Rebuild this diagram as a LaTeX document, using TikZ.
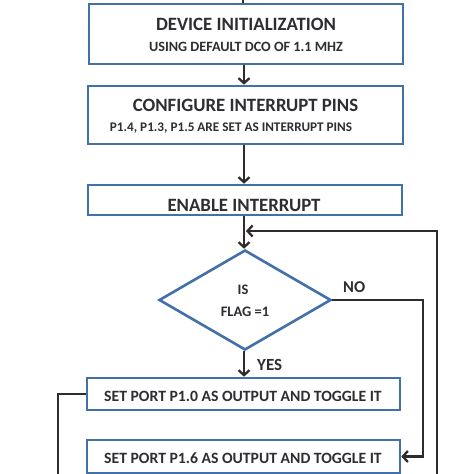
\documentclass[tikz,border=0pt]{standalone}
\usepackage{fontspec}
\setmainfont{Carlito}
\usetikzlibrary{arrows.meta,shapes.geometric}
\definecolor{boxblue}{RGB}{66,112,168}
\definecolor{linedark}{RGB}{48,44,44}
\definecolor{txt}{RGB}{45,45,50}
\tikzset{
  box/.style={draw=boxblue,line width=2.6pt,fill=white,inner sep=0pt},
  ttl/.style={text=txt,font=\bfseries\fontsize{18.8}{21}\selectfont,inner sep=0pt},
  sub/.style={text=txt,font=\bfseries\fontsize{13.5}{15}\selectfont,inner sep=0pt},
  btxt/.style={text=txt,font=\bfseries\fontsize{15.7}{18}\selectfont,inner sep=0pt},
  dtxt/.style={text=txt,font=\bfseries\fontsize{14.5}{16}\selectfont,inner sep=0pt},
  conn/.style={draw=linedark,line width=2.3pt},
  arr/.style={conn,-{Straight Barb[length=5pt,width=11pt,line width=2.3pt]}},
}
\begin{document}
\begin{tikzpicture}[x=1pt,y=1pt]
\useasboundingbox (0,0) rectangle (474,-474);
\fill[white] (0,0) rectangle (474,-474);
\coordinate (ax) at (244,0);
% boxes
\node[box,minimum width=314pt,minimum height=60pt] (b1) at (246,-34) {};
\node[ttl] (t1) at (246,-24) {DEVICE INITIALIZATION};
\node[sub,font=\bfseries\fontsize{14.2}{16}\selectfont] (s1) at (246,-47) {USING DEFAULT DCO OF 1.1 MHZ};
\node[box,minimum width=315pt,minimum height=58pt] (b2) at (245.5,-115) {};
\node[ttl] (t2) at (245.5,-105) {CONFIGURE INTERRUPT PINS};
\node[sub,font=\bfseries\fontsize{13.2}{15}\selectfont] (s2) at (231,-128) {P1.4, P1.3, P1.5 ARE SET AS INTERRUPT PINS};
\node[box,minimum width=314pt,minimum height=30pt] (b3) at (245,-200) {};
\node[ttl] (t3) at (244,-205) {ENABLE INTERRUPT};
\node[draw=boxblue,line width=2.6pt,diamond,minimum width=172pt,minimum height=100pt,inner sep=0pt] (d) at (245,-300) {};
\node[dtxt] (dt1) at (243,-290) {IS};
\node[dtxt] (dt2) at (245,-312) {FLAG =1};
\node[box,minimum width=313pt,minimum height=32pt] (b4) at (243.5,-394) {};
\node[btxt] (t4) at (243,-396) {SET PORT P1.0 AS OUTPUT AND TOGGLE IT};
\node[box,minimum width=313pt,minimum height=33pt] (b5) at (243.5,-456.5) {};
\node[btxt] (t5) at (243,-458) {SET PORT P1.6 AS OUTPUT AND TOGGLE IT};
% connectors
\coordinate (top) at (243,0);
\draw[conn] (top) -- (top |- b1.north);
\draw[arr] (b1.south -| ax) -- (b2.north -| ax);
\draw[arr] (b2.south -| ax) -- (b3.north -| ax);
\draw[arr] (b3.south -| ax) -- (d.north -| ax);
\coordinate (rr) at (437,-474);
\coordinate (j) at (246,-231);
\draw[arr] (rr) |- (j);
\coordinate (nox) at (423,0);
\draw[arr] (d.east) -- (d.east -| nox) -- (nox |- b5.east) -- (b5.east);
\node[btxt,font=\bfseries\fontsize{16.5}{18}\selectfont,anchor=west] (no) at (343,-287) {NO};
\draw[arr] (d.south -| ax) -- (b4.north -| ax);
\node[btxt,font=\bfseries\fontsize{17}{19}\selectfont,anchor=west] (yes) at (257,-365) {YES};
\coordinate (ll) at (58,-474);
\draw[conn] (b4.west) -| (ll);
\coordinate (bb) at (240,-474);
\draw[conn] (b5.south -| bb) -- (bb);
\end{tikzpicture}
\end{document}
